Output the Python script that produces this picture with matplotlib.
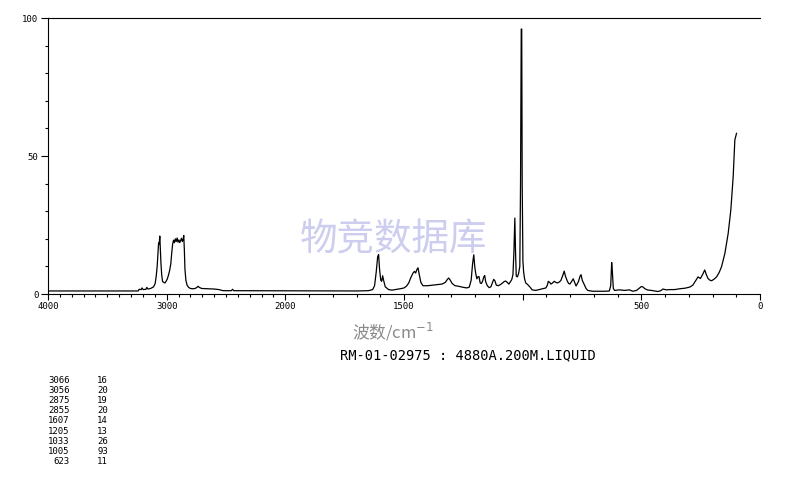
import numpy as np
import matplotlib
matplotlib.use('Agg')
import matplotlib.pyplot as plt
from matplotlib.ticker import FixedLocator, FixedFormatter

# ---- data ----
wavenumber = [4000, 3300, 3240, 3232, 3215, 3208, 3198, 3175, 3167, 3158, 3135, 3110,
              3097, 3088, 3080, 3074, 3068, 3063, 3058, 3054, 3048, 3042, 3035, 3025,
              3015, 3005, 2995, 2985, 2975, 2965, 2957, 2950, 2942, 2935, 2927, 2920,
              2912, 2905, 2897, 2890, 2882, 2875, 2868, 2862, 2856, 2851, 2846, 2838,
              2828, 2815, 2800, 2780, 2760, 2745, 2735, 2725, 2705, 2660, 2600, 2560,
              2525, 2455, 2445, 2435, 1700, 1650, 1632, 1624, 1617, 1611, 1607, 1603,
              1598, 1594, 1590, 1586, 1579, 1565, 1550, 1530, 1510, 1500, 1490, 1480,
              1472, 1462, 1456, 1451, 1446, 1441, 1436, 1429, 1420, 1400, 1380, 1360,
              1340, 1326, 1318, 1312, 1305, 1297, 1285, 1270, 1250, 1235, 1225, 1217,
              1211, 1206, 1202, 1198, 1193, 1188, 1184, 1179, 1174, 1169, 1164, 1160,
              1156, 1149, 1141, 1134, 1128, 1122, 1117, 1111, 1103, 1094, 1086, 1078,
              1072, 1066, 1058, 1052, 1046, 1041, 1037, 1033, 1030, 1027, 1022, 1017,
              1012, 1009, 1006, 1004, 1002, 999, 996, 992, 987, 980, 970, 960,
              945, 930, 915, 902, 896, 892, 886, 881, 874, 867, 860, 853,
              845, 839, 832, 825, 820, 811, 806, 801, 794, 787, 781, 775,
              765, 758, 754, 749, 740, 733, 726, 706, 650, 635, 629, 625,
              622, 618, 613, 592, 570, 550, 536, 520, 507, 500, 494, 485,
              472, 465, 430, 418, 409, 395, 380, 360, 338, 316, 296, 283,
              275, 261, 251, 241, 233, 226, 219, 211, 204, 193, 183, 172,
              162, 148, 134, 123, 113, 106, 99]
intensity = [1.1, 1.1, 1.1, 1.7, 1.6, 2.2, 1.6, 1.7, 2.4, 1.8, 2.0, 2.6,
             3.8, 6.5, 10, 14, 18.5, 18, 21, 17, 11, 7, 4.6, 4.2,
             4.0, 4.6, 5.4, 6.8, 8.5, 11, 15, 18, 19.5, 18.6, 20, 19,
             20.3, 18.8, 19.6, 18.6, 19.5, 20.2, 19.0, 19.6, 21.2, 16, 9, 5,
             3.2, 2.4, 2.0, 1.9, 2.0, 2.4, 2.8, 2.4, 2.0, 1.9, 1.8, 1.6,
             1.2, 1.2, 1.7, 1.2, 1.1, 1.2, 1.6, 3, 8, 13.5, 14.3, 9,
             5, 4.6, 6.6, 5, 2.6, 1.6, 1.4, 1.7, 2.0, 2.2, 2.8, 4,
             5.8, 7.6, 8.2, 7.6, 8.8, 9.5, 7.2, 4.2, 3.0, 3.0, 3.2, 3.4,
             3.6, 4.2, 5.2, 5.8, 5, 3.8, 3.0, 2.8, 2.4, 2.2, 2.5, 5,
             11, 14.2, 10, 7.5, 5.5, 6.3, 6.3, 4, 3.8, 4.6, 6.2, 6.7,
             4.5, 3.0, 2.3, 2.6, 4, 5.3, 4.8, 3.2, 3.0, 3.4, 3.9, 4.5,
             4.7, 4.3, 3.6, 4.4, 5.2, 7, 15, 27.5, 15, 6.5, 6.2, 7.5,
             10, 40, 96, 96, 40, 12, 8, 5.5, 4, 3.5, 2.6, 1.5,
             1.3, 1.6, 1.9, 2.2, 3.2, 4.6, 4.2, 3.6, 4.0, 4.6, 4.2, 4.0,
             4.4, 4.9, 6.5, 8.3, 6.5, 4.5, 3.8, 3.6, 4.5, 5.5, 4.2, 2.9,
             4.5, 6.5, 7.0, 5.0, 3.3, 2.0, 1.3, 1.0, 1.0, 1.1, 3, 11.4,
             8, 2, 1.3, 1.5, 1.3, 1.5, 1.0, 1.3, 2.2, 2.7, 2.6, 1.9,
             1.4, 1.4, 0.9, 1.2, 1.8, 1.5, 1.6, 1.6, 1.9, 2.1, 2.5, 3.2,
             4.3, 6.2, 5.6, 7.2, 8.7, 7.0, 5.6, 5.0, 4.8, 5.4, 6.2, 7.8,
             9.9, 14.7, 22, 30.4, 42.5, 55.8, 58.2]

x_major = [4000, 3000, 2000, 1500, 1000, 500, 0]
x_major_labels = ['4000', '3000', '2000', '1500', '', '500', '0']
y_major = [0, 50, 100]
y_major_labels = ['0', '50', '100']

peak_wn = ['3066', '3056', '2875', '2855', '1607', '1205', '1033', '1005', '623']
peak_int = ['16', '20', '19', '20', '14', '13', '26', '93', '11']

title_text = 'RM-01-02975 : 4880A.200M.LIQUID'
watermark = '物竞数据库'


# x scale: region above 2000 cm-1 is compressed by a factor of 2
def fwd(x):
    x = np.asarray(x, dtype=float)
    return np.where(x > 2000, 2000 + (x - 2000) / 2.0, x)


def inv(y):
    y = np.asarray(y, dtype=float)
    return np.where(y > 2000, 2000 + (y - 2000) * 2.0, y)


W, H = 794, 482
fig = plt.figure(figsize=(W / 100, H / 100), dpi=100)
fig.patch.set_facecolor('white')
ax = fig.add_axes([48 / W, 1 - 294 / H, 712 / W, 276 / H])
ax.set_xscale('function', functions=(fwd, inv))

ax.plot(wavenumber, intensity, color='black', lw=0.9, zorder=3)
ax.set_xlim(4000, 0)
ax.set_ylim(0, 100)

mono = 'DejaVu Sans Mono'
ax.xaxis.set_major_locator(FixedLocator(x_major))
ax.xaxis.set_major_formatter(FixedFormatter(x_major_labels))
ax.xaxis.set_minor_locator(FixedLocator([v for v in range(0, 4001, 100) if v not in x_major]))
ax.yaxis.set_major_locator(FixedLocator(y_major))
ax.yaxis.set_major_formatter(FixedFormatter(y_major_labels))
ax.yaxis.set_minor_locator(FixedLocator([v for v in range(10, 100, 10) if v not in y_major]))

ax.tick_params(axis='both', which='both', direction='out', color='black', width=0.8)
ax.tick_params(axis='x', which='major', length=4, pad=2, labelsize=6.5)
ax.tick_params(axis='x', which='minor', length=2)
ax.tick_params(axis='y', which='major', length=5, pad=2, labelsize=6.5)
ax.tick_params(axis='y', which='minor', length=2.5)
for lab in ax.get_xticklabels() + ax.get_yticklabels():
    lab.set_family(mono)

for s in ['left', 'top', 'bottom']:
    ax.spines[s].set_linewidth(0.8)
ax.spines['right'].set_visible(False)

# watermark (behind the spectrum)
ax.text(394 / W, 1 - 240 / H, watermark, transform=fig.transFigure, fontsize=27,
        color='#cdcdef', family=['Noto Sans CJK SC', 'DejaVu Sans'],
        ha='center', va='center', zorder=1)

# x label
fig.text(393 / W, 1 - 332 / H, '波数/cm$^{-1}$', fontsize=12, color='#8a8a8a',
         family=['Noto Sans CJK SC', 'DejaVu Sans'], ha='center', va='center')

# sample id line
fig.text(340 / W, 1 - 355 / H, title_text, fontsize=9.95, family=mono,
         ha='left', va='center', color='black')

# peak table
for i, (w, v) in enumerate(zip(peak_wn, peak_int)):
    yy = 1 - (380.5 + i * 10.1) / H
    fig.text(69.5 / W, yy, w, fontsize=6.5, family=mono, ha='right', va='center')
    fig.text(97 / W, yy, v, fontsize=6.5, family=mono, ha='left', va='center')

fig.savefig('out.png', dpi=100, facecolor='white')
